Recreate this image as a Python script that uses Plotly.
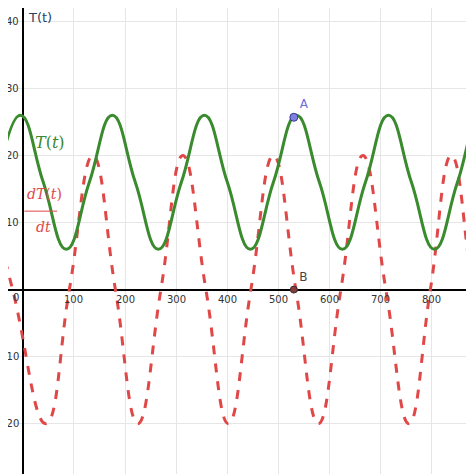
import plotly.graph_objects as go

# T(t) key points (peaks, troughs, midpoints)
t_T = [-50, -5, 40, 85, 130, 175, 220, 265, 310, 355, 400, 445, 490, 535, 580, 625, 670, 715, 760, 805, 850, 895, 940]
v_T = [16, 26, 16, 6, 16, 26, 16, 6, 16, 26, 16, 6, 16, 26, 16, 6, 16, 26, 16, 6, 16, 26, 16]

# dT/dt (scaled) key points
t_D = [-87, -43, 1, 45, 91, 137, 181, 225, 270, 313, 358, 402, 446, 490, 534, 578, 622, 665, 710, 755, 797, 838, 880, 925]
v_D = [-20, 0, 20, 0, -20, 0, 20, 0, -20, 0, 20, 0, -20, 0, 20, 0, -20, 0, 20, 0, -20, 0, 20, 0]
v_D = [0, -20, 0, 20, -20, 0, 20, 0, -20, 0, 20, 0, -20, 0, 20, 0, -20, 0, 20, 0, -20, 0, 20, 0]
t_D = [-87, -20, 45, 91, 137, 181, 225, 270, 313, 358, 402, 446, 490, 534, 578, 622, 665, 710, 755, 797, 838, 880, 925]
v_D = [20, 0, -20, 0, 20, 0, -20, 0, 20, 0, -20, 0, 20, 0, -20, 0, 20, 0, -20, 0, 20, 0, -20]

x_ticks = [100, 200, 300, 400, 500, 600, 700, 800]
y_ticks = [-20, -10, 10, 20, 30, 40]

pt_A = (530, 25.7)
pt_B = (530, 0)

fig = go.Figure()
fig.add_trace(go.Scatter(x=t_D, y=v_D, mode="lines", line=dict(color="#e04848", width=3, dash="dash", shape="spline", smoothing=1.3)))
fig.add_trace(go.Scatter(x=t_T, y=v_T, mode="lines", line=dict(color="#3a8a2e", width=3, shape="spline", smoothing=1.3)))
fig.add_trace(go.Scatter(x=[pt_A[0]], y=[pt_A[1]], mode="markers+text", text=["A"], textposition="top right",
                         textfont=dict(color="#6a6adc", size=12),
                         marker=dict(size=8, color="#7f7fe0", line=dict(color="#3a3a90", width=1))))
fig.add_trace(go.Scatter(x=[pt_B[0]], y=[pt_B[1]], mode="markers+text", text=["B"], textposition="top right",
                         textfont=dict(color="#444", size=12),
                         marker=dict(size=7, color="#8b3a3a", line=dict(color="#333", width=1))))

axis = dict(showgrid=True, gridcolor="#e6e6e6", zeroline=True, zerolinecolor="black", zerolinewidth=1.5,
            showline=False, ticks="", showticklabels=False)

ann = []
for v in x_ticks:
    ann.append(dict(x=v, y=0, text=str(v), showarrow=False, yanchor="top", yshift=-2, font=dict(size=10, color="#333")))
for v in y_ticks:
    ann.append(dict(x=0, y=v, text=str(v), showarrow=False, xanchor="right", xshift=-2, font=dict(size=10, color="#333")))
ann.append(dict(x=0, y=0, text="0", showarrow=False, xanchor="right", yanchor="top", xshift=-2, font=dict(size=10, color="#333")))
ann += [
    dict(x=0, y=42, text="T(t)", showarrow=False, xanchor="left", yanchor="top", xshift=3, font=dict(size=13)),
    dict(x=898, y=0, text="t", showarrow=False, xanchor="right", yanchor="bottom", xshift=-4, font=dict(size=13)),
    dict(x=20, y=22, text="<i>T</i>(<i>t</i>)", showarrow=False, xanchor="left", font=dict(size=16, color="#3a8a2e", family="DejaVu Serif")),
    dict(x=4, y=14.2, text="<i>dT</i>(<i>t</i>)", showarrow=False, xanchor="left", font=dict(size=14, color="#e04848", family="DejaVu Serif")),
    dict(x=22, y=9.3, text="<i>dt</i>", showarrow=False, xanchor="left", font=dict(size=14, color="#e04848", family="DejaVu Serif")),
]

fig.update_layout(
    width=474, height=474, margin=dict(l=0, r=0, t=0, b=0), showlegend=False,
    plot_bgcolor="white", paper_bgcolor="white", font=dict(family="DejaVu Sans"),
    xaxis=dict(axis, range=[-29, 898], dtick=100),
    yaxis=dict(axis, range=[-28.7, 42], dtick=10),
    annotations=ann,
    shapes=[dict(type="line", x0=3, x1=67, y0=11.7, y1=11.7, line=dict(color="#e04848", width=1))],
)
fig.write_html("out.html")
